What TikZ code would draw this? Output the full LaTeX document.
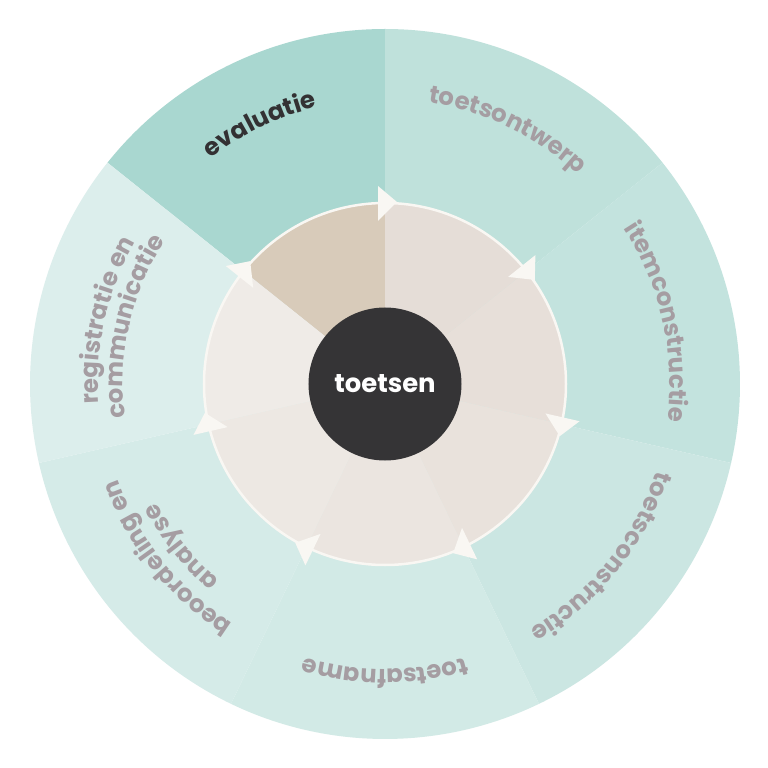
\documentclass[tikz,border=0pt]{standalone}
\usepackage{fontspec}
\setmainfont{Poppins}
\usetikzlibrary{decorations.text}
\definecolor{evalO}{HTML}{A9D7D0}
\definecolor{ontwO}{HTML}{BFE1DB}
\definecolor{itemO}{HTML}{C3E3DE}
\definecolor{tconO}{HTML}{CBE6E2}
\definecolor{afnO}{HTML}{D2EAE6}
\definecolor{beoO}{HTML}{D5EBE8}
\definecolor{regO}{HTML}{DCEEEC}
\definecolor{evalI}{HTML}{D8CBBA}
\definecolor{ontwI}{HTML}{E5DDD7}
\definecolor{itemI}{HTML}{E7DFD9}
\definecolor{tconI}{HTML}{E9E2DC}
\definecolor{afnI}{HTML}{EBE5E0}
\definecolor{beoI}{HTML}{EDE8E3}
\definecolor{regI}{HTML}{EFEBE7}
\definecolor{darkc}{HTML}{353436}
\definecolor{arrowc}{HTML}{F9F7F3}
\definecolor{lblgray}{HTML}{A59DA2}
\definecolor{lbldark}{HTML}{333133}
\newcommand\lblfont{\fontsize{24.5}{24.5}\selectfont\bfseries}
\newcommand\sector[3]{\fill[#1] (0,0) -- (#2:#3) arc[start angle=#2, end angle=#2-51.4286, radius=#3] -- cycle;}
\newcommand\arclabel[4]{\path[decorate, decoration={text along path, text align=center, text color=#4, text={|\lblfont|#3}}] (#1+34:#2) arc[start angle=#1+34, end angle=#1-34, radius=#2];}
\begin{document}
\begin{tikzpicture}[x=1bp,y=1bp]
\useasboundingbox[fill=white] (-385,-384) rectangle (383,384);
% outer ring sectors
\sector{evalO}{141.4286}{355}
\sector{ontwO}{90}{355}
\sector{itemO}{38.5714}{355}
\sector{tconO}{-12.8571}{355}
\sector{afnO}{-64.2857}{355}
\sector{beoO}{-115.7143}{355}
\sector{regO}{-167.1429}{355}
% inner ring sectors
\sector{evalI}{141.4286}{181}
\sector{ontwI}{90}{181}
\sector{itemI}{38.5714}{181}
\sector{tconI}{-12.8571}{181}
\sector{afnI}{-64.2857}{181}
\sector{beoI}{-115.7143}{181}
\sector{regI}{-167.1429}{181}
\draw[arrowc, line width=2.5bp] (0,0) circle[radius=181];
% arrowheads
\foreach \a in {90,38.5714,-12.8571,-64.2857,-115.7143,-167.1429,141.4286}
  \fill[arrowc, rotate=\a] (163,7) -- (198,7) -- (182,-12) -- cycle;
% centre
\node[circle, fill=darkc, minimum size=153bp, inner sep=0pt, text=white, font=\fontsize{26}{26}\selectfont\bfseries] (c) at (0,0) {toetsen};
% labels
\arclabel{115.7143}{285}{evaluatie}{lbldark}
\arclabel{64.2857}{285}{toetsontwerp}{lblgray}
\arclabel{12.8571}{285}{itemconstructie}{lblgray}
\arclabel{-38.5714}{285}{toetsconstructie}{lblgray}
\arclabel{-90}{285}{toetsafname}{lblgray}
\arclabel{-141.4286}{284}{beoordeling en}{lblgray}
\arclabel{-141.4286}{257}{analyse}{lblgray}
\arclabel{-192.8571}{287}{registratie en}{lblgray}
\arclabel{-192.8571}{262}{communicatie}{lblgray}
\end{tikzpicture}
\end{document}
